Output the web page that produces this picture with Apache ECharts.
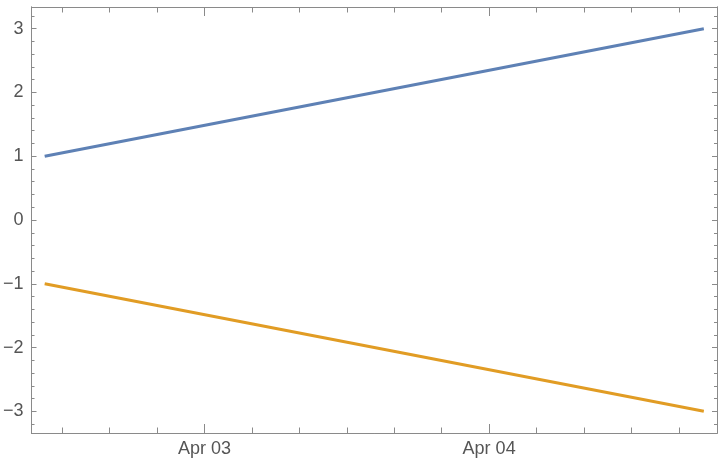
<!DOCTYPE html>
<html>
<head>
    <meta charset="utf-8">
    <title>Date list plot</title>
    <script src="https://cdn.jsdelivr.net/npm/echarts@6/dist/echarts.min.js"></script>
    <style>
        html, body { margin: 0; padding: 0; background: #fff; }
    </style>
</head>
<body>
    <div id="main" style="width:720px; height:464px"></div>
    <script type="text/javascript">
        // dates of the two points of each line
        var dates = ['2024-04-02T10:32', '2024-04-04T18:06'];
        var risingValues = [1, 3];
        var fallingValues = [-1, -3];

        // tick positions
        var majorDates = ['2024-04-03T00:00', '2024-04-04T00:00'];
        var minorDates = ['2024-04-02T12:00', '2024-04-02T16:00', '2024-04-02T20:00',
            '2024-04-03T04:00', '2024-04-03T08:00', '2024-04-03T12:00', '2024-04-03T16:00', '2024-04-03T20:00',
            '2024-04-04T04:00', '2024-04-04T08:00', '2024-04-04T12:00', '2024-04-04T16:00'];
        var yMajor = [-3, -2, -1, 0, 1, 2, 3];
        var yMinor = [-3.2, -2.8, -2.6, -2.4, -2.2, -1.8, -1.6, -1.4, -1.2, -0.8, -0.6, -0.4, -0.2,
            0.2, 0.4, 0.6, 0.8, 1.2, 1.4, 1.6, 1.8, 2.2, 2.4, 2.6, 2.8, 3.2];
        var monthNames = ['Jan', 'Feb', 'Mar', 'Apr', 'May', 'Jun', 'Jul', 'Aug', 'Sep', 'Oct', 'Nov', 'Dec'];

        function toMs(s) {
            var p = s.split(/[-T:]/).map(Number);
            return Date.UTC(p[0], p[1] - 1, p[2], p[3], p[4]);
        }

        var t = dates.map(toMs);
        var pad = (t[1] - t[0]) * 0.02;
        var xMin = t[0] - pad, xMax = t[1] + pad;
        var xMajor = majorDates.map(toMs);
        var xMinor = minorDates.map(toMs);

        var lineColor = '#8a8a8a';
        var textColor = '#555555';
        var font = 'Liberation Sans, Arial, sans-serif';

        function xAxis(position, ticks, len, labels) {
            return {
                type: 'value',
                position: position,
                min: xMin,
                max: xMax,
                axisLine: { show: true, onZero: false, lineStyle: { color: lineColor, width: 1 } },
                axisTick: { show: true, inside: true, length: len, customValues: ticks,
                    lineStyle: { color: lineColor, width: 1 } },
                axisLabel: {
                    show: labels,
                    customValues: xMajor,
                    margin: 7,
                    color: textColor,
                    fontSize: 18,
                    fontFamily: font,
                    formatter: function (v) {
                        var d = new Date(v);
                        var day = d.getUTCDate();
                        return monthNames[d.getUTCMonth()] + ' ' + (day < 10 ? '0' : '') + day;
                    }
                },
                splitLine: { show: false }
            };
        }

        function yAxis(position, ticks, len, labels) {
            return {
                type: 'value',
                position: position,
                min: -3.34,
                max: 3.34,
                axisLine: { show: true, onZero: false, lineStyle: { color: lineColor, width: 1 } },
                axisTick: { show: true, inside: true, length: len, customValues: ticks,
                    lineStyle: { color: lineColor, width: 1 } },
                axisLabel: {
                    show: labels,
                    customValues: yMajor,
                    margin: 8,
                    color: textColor,
                    fontSize: 18,
                    fontFamily: font,
                    formatter: function (v) {
                        return String(v).replace('-', '\u2212');
                    }
                },
                splitLine: { show: false }
            };
        }

        function points(values) {
            return t.map(function (x, i) { return [x, values[i]]; });
        }

        var myChart = echarts.init(document.getElementById('main'));

        var option = {
            animation: false,
            grid: { left: 30, right: 3, top: 7, bottom: 31, containLabel: false },
            xAxis: [
                xAxis('bottom', xMajor, 9, true),
                xAxis('bottom', xMinor, 5.5, false),
                xAxis('top', xMajor, 9, false),
                xAxis('top', xMinor, 5.5, false)
            ],
            yAxis: [
                yAxis('left', yMajor, 5, true),
                yAxis('left', yMinor, 3, false),
                yAxis('right', yMajor, 5, false),
                yAxis('right', yMinor, 3, false)
            ],
            series: [
                {
                    type: 'line',
                    data: points(risingValues),
                    showSymbol: false,
                    lineStyle: { color: '#5e81b5', width: 3 }
                },
                {
                    type: 'line',
                    data: points(fallingValues),
                    showSymbol: false,
                    lineStyle: { color: '#e19c24', width: 3 }
                }
            ]
        };

        myChart.setOption(option);
    </script>
</body>
</html>
